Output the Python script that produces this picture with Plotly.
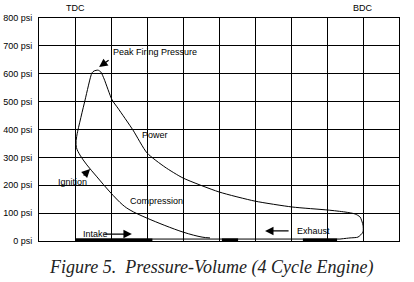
import plotly.graph_objects as go

# ---- data (volume in grid units 0..10, pressure in psi) ----
y_ticks = [0, 100, 200, 300, 400, 500, 600, 700, 800]
y_tick_labels = ["0 psi", "100 psi", "200 psi", "300 psi", "400 psi",
                 "500 psi", "600 psi", "700 psi", "800 psi"]
x_grid = [0, 1, 2, 3, 4, 5, 6, 7, 8, 9, 10]
stroke_marks = ["TDC", "BDC"]
stroke_pos = [1, 9]

compression_x = [4.75, 4.53, 4.0, 3.0, 2.53, 2.33, 1.97, 1.61, 1.33, 1.14, 1.04, 1.03]
compression_y = [11, 14, 32, 82, 111, 129, 176, 230, 273, 308, 335, 360]

power_x = [1.03, 1.06, 1.28, 1.47, 1.53, 1.64, 1.72, 1.81, 2.03, 2.19, 2.61, 3.0,
           3.5, 4.0, 5.0, 6.0, 7.03, 8.03, 8.5, 8.78, 8.92, 9.0, 9.0, 8.86, 8.64, 8.36]
power_y = [360, 385, 506, 603, 610, 613, 606, 581, 506, 477, 398, 316,
           265, 226, 176, 143, 122, 111, 104, 97, 86, 57, 32, 14, 11, 7]

bottom_x = [8.36, 1.0]
bottom_y = [7, 7]

thick_segments = [([1.0, 3.15], [4, 4]), ([5.08, 5.53], [4, 4]), ([7.33, 8.28], [4, 4])]

caption = "Figure 5.  Pressure-Volume (4 Cycle Engine)"

FONT = "Liberation Sans, Arial, sans-serif"

fig = go.Figure()
line_style = dict(color="black", width=1)
fig.add_trace(go.Scatter(x=compression_x, y=compression_y, mode="lines",
                         line=line_style, line_shape="spline", hoverinfo="skip"))
fig.add_trace(go.Scatter(x=power_x, y=power_y, mode="lines",
                         line=dict(color="black", width=1, smoothing=0.6),
                         line_shape="spline", hoverinfo="skip"))
fig.add_trace(go.Scatter(x=bottom_x, y=bottom_y, mode="lines",
                         line=line_style, hoverinfo="skip"))
for sx, sy in thick_segments:
    fig.add_trace(go.Scatter(x=sx, y=sy, mode="lines",
                             line=dict(color="black", width=3), hoverinfo="skip"))

txt = dict(family=FONT, size=9, color="black")
labels = [
    ("Peak Firing Pressure", 2.0, 678),
    ("Power", 2.8, 380),
    ("Compression", 2.47, 143),
    ("Ignition", 0.47, 212),
    ("Intake", 1.17, 25),
    ("Exhaust", 7.11, 36),
]
annotations = []
for t, x, y in labels:
    annotations.append(dict(x=x, y=y, xref="x", yref="y", text=t, showarrow=False,
                            xanchor="left", yanchor="middle", font=txt))

arrows = [
    (1.67, 624, 11, -8),
    (1.42, 258, -8, 8),
    (2.58, 25, -29, 0),
    (6.28, 36, 25, 0),
]
for x, y, ax, ay in arrows:
    annotations.append(dict(x=x, y=y, xref="x", yref="y", ax=ax, ay=ay,
                            axref="pixel", ayref="pixel", text="", showarrow=True,
                            arrowhead=2, arrowsize=1.3, arrowwidth=1.3, arrowcolor="black"))

for t, p in zip(stroke_marks, stroke_pos):
    annotations.append(dict(x=p, y=1.045, xref="x", yref="paper", text=t, showarrow=False,
                            xanchor="center", yanchor="middle", font=txt))

annotations.append(dict(x=0.478, y=-0.117, xref="paper", yref="paper",
                        text="<i>" + caption + "</i>", showarrow=False,
                        xanchor="center", yanchor="middle",
                        font=dict(family="Liberation Serif, Times New Roman, serif",
                                  size=18, color="#222222")))

fig.update_layout(
    width=414, height=282,
    margin=dict(l=39, r=15, t=18, b=41, autoexpand=False),
    paper_bgcolor="white", plot_bgcolor="white",
    showlegend=False,
    annotations=annotations,
    xaxis=dict(range=[0, 10], tickvals=x_grid, showticklabels=False,
               showgrid=True, gridcolor="black", gridwidth=1,
               showline=True, linecolor="black", linewidth=1, mirror=True,
               zeroline=False, ticks="", fixedrange=True, automargin=False),
    yaxis=dict(range=[0, 800], tickvals=y_ticks, ticktext=y_tick_labels,
               showgrid=True, gridcolor="black", gridwidth=1,
               showline=True, linecolor="black", linewidth=1, mirror=True,
               zeroline=False, ticks="", ticklabelstandoff=4, automargin=False,
               tickfont=dict(family=FONT, size=9, color="black"), fixedrange=True),
)

fig.write_html("out.html", config={"displayModeBar": False})
